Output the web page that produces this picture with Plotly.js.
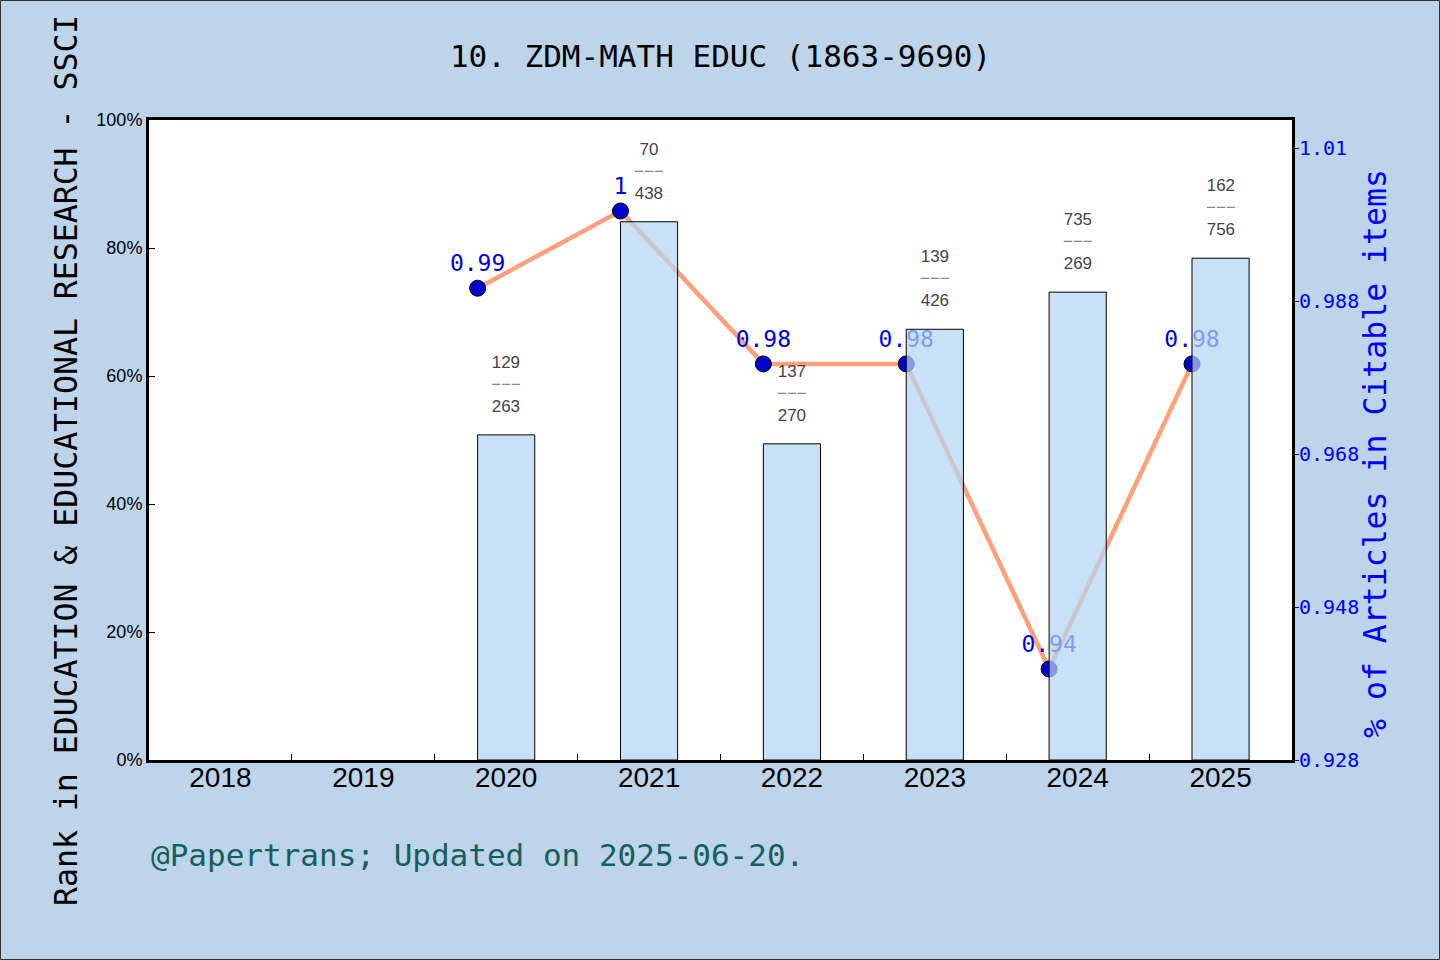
<!DOCTYPE html>
<html>
<head>
<meta charset="utf-8">
<script src="https://cdn.plot.ly/plotly-3.0.1.min.js"></script>
<style>html,body{margin:0;padding:0;background:#bdd4eb;}#chart{width:1440px;height:960px;}</style>
</head>
<body>
<div id="chart"></div>
<script>
// ---- data ----
const axisYears = [2018, 2019, 2020, 2021, 2022, 2023, 2024, 2025];
const years = [2020, 2021, 2022, 2023, 2024, 2025];
const rankPct = [0.508, 0.841, 0.494, 0.673, 0.731, 0.784];
const rankNum = [129, 70, 137, 139, 735, 162];
const rankTotal = [263, 438, 270, 426, 269, 756];
const citable = [0.9897, 0.9998, 0.9798, 0.9798, 0.9399, 0.9798];
const citableLabels = ['0.99', '1', '0.98', '0.98', '0.94', '0.98'];
const rightTickVals = [0.928, 0.948, 0.968, 0.988, 1.008];
const rightTickText = ['0.928', '0.948', '0.968', '0.988', '1.01'];
const leftTitle = 'Rank in EDUCATION & EDUCATIONAL RESEARCH - SSCI';
const rightTitle = '% of Articles in Citable items';
const chartTitle = '10. ZDM-MATH EDUC (1863-9690)';
const footer = '@Papertrans; Updated on 2025-06-20.';

const MONO = 'DejaVu Sans Mono, Liberation Mono, monospace';
const SANS = 'Liberation Sans, Arial, sans-serif';
const W = 1440, H = 960, L = 149, R = 148, T = 120, B = 200;
const pw = W - L - R, ph = H - T - B;
const px = x => (x - L) / pw;           // page px -> paper x
const py = y => (H - B - y) / ph;       // page px -> paper y

const lineTrace = {
  type: 'scatter',
  mode: 'lines+markers+text',
  x: years.map(y => y - 0.2),
  y: citable,
  text: citableLabels,
  textposition: 'top center',
  textfont: {family: MONO, size: 23, color: '#0000e6'},
  line: {color: 'rgb(255,160,122)', width: 4.5},
  marker: {color: '#0000cd', size: 16, line: {color: '#000', width: 1}},
  xaxis: 'x', yaxis: 'y',
  cliponaxis: false,
  hoverinfo: 'skip',
  showlegend: false
};

const barTrace = {
  type: 'bar',
  x: years,
  y: rankPct,
  width: 0.4,
  marker: {color: 'rgba(180,213,243,0.72)', line: {color: '#000', width: 1}},
  xaxis: 'x', yaxis: 'y2',
  hoverinfo: 'skip',
  showlegend: false
};

const annotations = years.map((yr, i) => ({
  x: yr, y: rankPct[i], xref: 'x', yref: 'y2',
  text: rankNum[i] + '<br><span style="color:#888">−−−</span><br>' + rankTotal[i],
  showarrow: false, yanchor: 'bottom', yshift: 17,
  font: {family: SANS, size: 17, color: '#444'}
}));
annotations.push({
  x: 0, xanchor: 'left', y: py(855), yanchor: 'middle',
  xref: 'paper', yref: 'paper', showarrow: false,
  text: footer,
  font: {family: MONO, size: 31, color: 'rgb(22,96,92)'}
});
annotations.push({
  x: px(66), y: py(461), xanchor: 'center', yanchor: 'middle',
  xref: 'paper', yref: 'paper', showarrow: false, textangle: -90,
  text: leftTitle,
  font: {family: MONO, size: 31.5, color: '#000'}
});
annotations.push({
  x: px(1375), y: py(454), xanchor: 'center', yanchor: 'middle',
  xref: 'paper', yref: 'paper', showarrow: false, textangle: -90,
  text: rightTitle,
  font: {family: MONO, size: 31.5, color: '#0000ff'}
});

const layout = {
  width: W, height: H,
  margin: {l: L, r: R, t: T, b: B},
  paper_bgcolor: 'rgb(189,212,235)',
  plot_bgcolor: '#ffffff',
  title: {
    text: chartTitle,
    x: 0.5, xref: 'paper', xanchor: 'center',
    y: 1 - 56 / H, yref: 'container', yanchor: 'middle',
    font: {family: MONO, size: 31, color: '#000'}
  },
  xaxis: {
    range: [2017.5, 2025.5],
    tickvals: axisYears,
    ticktext: axisYears.map(String),
    ticks: '',
    showline: true, linecolor: '#000', linewidth: 3, mirror: true,
    showgrid: false, zeroline: false,
    tickfont: {family: SANS, size: 28, color: '#000'},
    ticklabelstandoff: -10,
    minor: {tickvals: [2018.5, 2019.5, 2020.5, 2021.5, 2022.5, 2023.5, 2024.5], ticks: 'inside', ticklen: 6, tickcolor: '#000', tickwidth: 1, showgrid: false}
  },
  yaxis: {
    side: 'right',
    range: [0.928, 1.0117],
    tickvals: rightTickVals,
    ticktext: rightTickText,
    ticks: 'outside', ticklen: 4, tickcolor: '#0000ff', tickwidth: 1,
    tickfont: {family: MONO, size: 20, color: '#0000ff'},
    ticklabelstandoff: -4,
    showline: true, linecolor: '#000', linewidth: 3,
    showgrid: false, zeroline: false
  },
  yaxis2: {
    side: 'left', overlaying: 'y',
    range: [0, 1],
    tickvals: [0, 0.2, 0.4, 0.6, 0.8, 1.0],
    tickformat: '.0%',
    ticks: 'inside', ticklen: 6, tickcolor: '#000', tickwidth: 1,
    tickfont: {family: SANS, size: 18, color: '#000'},
    showline: true, linecolor: '#000', linewidth: 3,
    showgrid: false, zeroline: false
  },
  annotations: annotations,
  shapes: [{
    type: 'rect', xref: 'paper', yref: 'paper',
    x0: -(L - 0.5) / pw, x1: 1 + (R - 0.5) / pw,
    y0: -(B - 0.5) / ph, y1: 1 + (T - 0.5) / ph,
    line: {color: '#333', width: 1}, fillcolor: 'rgba(0,0,0,0)', layer: 'below'
  }]
};

Plotly.newPlot('chart', [lineTrace, barTrace], layout, {displayModeBar: false, staticPlot: true});
</script>
</body>
</html>
